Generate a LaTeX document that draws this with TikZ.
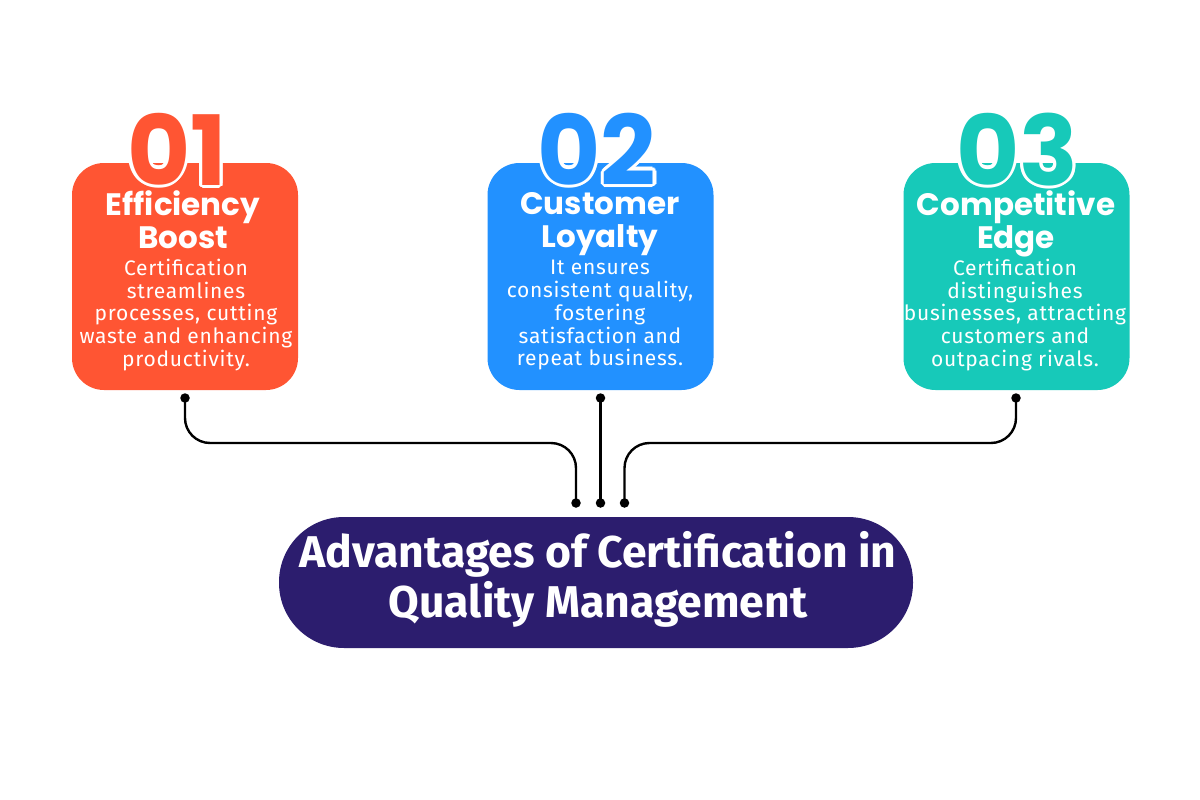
\documentclass[tikz,border=0pt]{standalone}
\usepackage{fontspec}
\setmainfont{Fira Sans}
\newfontfamily\popfont{Poppins}
\newfontfamily\firaS{Fira Sans}
\newfontfamily\bodyfont[LetterSpace=3.5]{Fira Sans}
\usetikzlibrary{calc}
\definecolor{cOrange}{HTML}{FF5533}
\definecolor{cBlue}{HTML}{2291FF}
\definecolor{cTeal}{HTML}{17C9B9}
\definecolor{cNavy}{HTML}{2C1D6E}
\tikzset{
  card/.style={rounded corners=32, minimum width=226pt, minimum height=227pt, inner sep=0pt, draw=none},
  numtxt/.style={font=\popfont\bfseries\fontsize{97}{97}\selectfont, inner sep=0pt, anchor=base},
  headtxt/.style={font=\popfont\bfseries\fontsize{31}{33}\selectfont, text=white, align=center, inner sep=0pt, anchor=north},
  bodytxt/.style={font=\bodyfont\fontsize{21}{22.7}\selectfont, text=white, align=center, inner sep=0pt, anchor=north},
  dot/.style={circle, fill=black, inner sep=0pt, minimum size=9.5pt},
  conn/.style={line width=2.4pt, black, rounded corners=25pt},
  pill/.style={rounded corners=65pt, fill=cNavy, minimum width=634pt, minimum height=131pt, inner sep=0pt},
  titletxt/.style={font=\firaS\bfseries\fontsize{44.5}{50}\selectfont, text=white, align=center, inner sep=0pt}
}
\newcommand{\outlinednum}[4]{% name, position, colour, text
  \foreach \a in {0,30,...,330}{
    \node[numtxt, text=white] at ($(#2)+(\a:3.2)$) {#4};
  }
  \node[numtxt, text=#3] (#1) at (#2) {#4};
}
\begin{document}
\begin{tikzpicture}[x=1pt,y=-1pt]
\useasboundingbox (0,0) rectangle (1200,800);
\fill[white] (0,0) rectangle (1200,800);

% cards
\node[card, fill=cOrange] (c1) at (185,276.5) {};
\node[card, fill=cBlue] (c2) at (600.5,276.5) {};
\node[card, fill=cTeal] (c3) at (1016.5,276.5) {};

% numbers
\coordinate (p1) at (177,185);
\coordinate (p2) at (597,185);
\coordinate (p3) at (1017,185);
\outlinednum{n1}{p1}{cOrange}{01}
\outlinednum{n2}{p2}{cBlue}{02}
\outlinednum{n3}{p3}{cTeal}{03}

% headings
\node[headtxt] (h1) at (183,190) {\vphantom{Ef}Efficiency\\Boost};
\node[headtxt] (h2) at (600,190) {\vphantom{Ef}Customer\\Loyalty};
\node[headtxt] (h3) at (1016,190) {\vphantom{Ef}Competitive\\Edge};

% body text
\node[bodytxt] (b1) at (186,259) {\vphantom{Cf}Certification\\streamlines\\processes, cutting\\waste and enhancing\\productivity.};
\node[bodytxt] (b2) at (600,259) {\vphantom{Cf}It ensures\\consistent quality,\\fostering\\satisfaction and\\repeat business.};
\node[bodytxt] (b3) at (1015,259) {\vphantom{Cf}Certification\\distinguishes\\businesses, attracting\\customers and\\outpacing rivals.};

% title pill
\node[pill] (t) at (596,582.5) {};
\node[titletxt] (tt) at (598,579) {Advantages of Certification in\\Quality Management};

% dots
\node[dot] (d1t) at (185,398) {};
\node[dot] (d2t) at (600.5,398) {};
\node[dot] (d3t) at (1016,398) {};
\node[dot] (d1b) at (576,503) {};
\node[dot] (d2b) at (600.5,503) {};
\node[dot] (d3b) at (624.5,503) {};

% connectors
\draw[conn] (d1t.center) -- (d1t.center |- 0,443) -- (d1b.center |- 0,443) -- (d1b.center);
\draw[conn] (d2t.center) -- (d2b.center);
\draw[conn] (d3t.center) -- (d3t.center |- 0,443) -- (d3b.center |- 0,443) -- (d3b.center);
\end{tikzpicture}
\end{document}
